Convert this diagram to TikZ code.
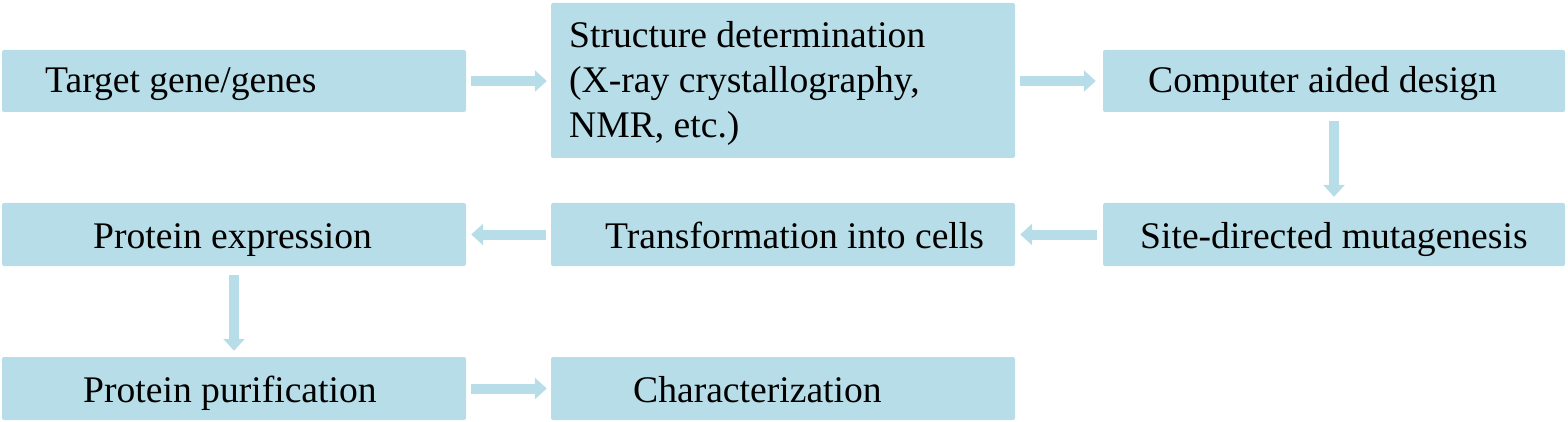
\documentclass[tikz,border=0pt]{standalone}
\usepackage{fontspec}
\setmainfont{Liberation Serif}
\usepackage{tikz}
\usetikzlibrary{arrows.meta}
\definecolor{boxblue}{HTML}{B7DEE8}
\tikzstyle{stepbox}=[rectangle,fill=boxblue,draw=none,rounded corners=2pt,
inner sep=0pt,minimum width=464pt,minimum height=62pt]
\tikzstyle{steptext}=[anchor=base west,inner sep=0pt,font=\fontsize{37.6}{45}\selectfont,align=left]
\tikzstyle{flow}=[draw=boxblue,line width=10pt,-{Triangle[width=21pt,length=12pt]}]

\begin{document}
\begin{tikzpicture}[x=1pt,y=-1pt]
	\useasboundingbox (0,0) rectangle (1568,422);
	
	\node  (b1)   at (234,81) [stepbox] {};
	\node  (b2)   at (783,80.5) [stepbox,minimum height=155pt] {};
	\node  (b3)   at (1334,81) [stepbox,minimum width=462pt] {};
	\node  (b4)   at (1334,234.5) [stepbox,minimum width=462pt,minimum height=63pt] {};
	\node  (b5)   at (783,234.5) [stepbox,minimum height=63pt] {};
	\node  (b6)   at (234,234.5) [stepbox,minimum height=63pt] {};
	\node  (b7)   at (234,388.5) [stepbox,minimum height=63pt] {};
	\node  (b8)   at (783,388.5) [stepbox,minimum height=63pt] {};
	
	\node  (t1)   at (45,93) [steptext] {Target gene/genes};
	\node  (t2a)  at (569,48) [steptext] {Structure determination};
	\node  (t2b)  at (569,93) [steptext] {(X-ray crystallography,};
	\node  (t2c)  at (569,138) [steptext] {NMR, etc.)};
	\node  (t3)   at (1148,93) [steptext] {Computer aided design};
	\node  (t4)   at (1140,248) [steptext] {Site-directed mutagenesis};
	\node  (t5)   at (605,248) [steptext] {Transformation into cells};
	\node  (t6)   at (93,248) [steptext] {Protein expression};
	\node  (t7)   at (83,402) [steptext] {Protein purification};
	\node  (t8)   at (633,402) [steptext] {Characterization};
	
	\draw [flow,shorten <=5pt,shorten >=4pt] (b1.east) to (b2.west |- b1.east);
	\draw [flow,shorten <=5pt,shorten >=7pt] (b2.east |- b3.west) to (b3.west);
	\draw [flow,shorten <=9pt,shorten >=6pt] (b3.south) to (b4.north);
	\draw [flow,shorten <=6pt,shorten >=5pt] (b4.west) to (b5.east);
	\draw [flow,shorten <=5pt,shorten >=5pt] (b5.west) to (b6.east);
	\draw [flow,shorten <=9pt,shorten >=6pt] (b6.south) to (b7.north);
	\draw [flow,shorten <=5pt,shorten >=4pt] (b7.east) to (b8.west);
		
\end{tikzpicture}
\end{document}
